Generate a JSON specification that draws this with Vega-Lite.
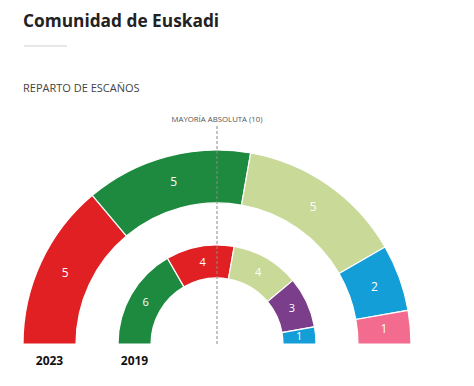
{
  "$schema": "https://vega.github.io/schema/vega-lite/v6.json",
  "width": 474,
  "height": 386,
  "autosize": {"type": "none"},
  "padding": 0,
  "background": "white",
  "config": {"view": {"stroke": null}, "font": "Open Sans"},
  "datasets": {
    "seats": [
      {"year": "2023", "party": "PSE-EE", "seats": 5, "o": 1},
      {"year": "2023", "party": "EAJ-PNV", "seats": 5, "o": 2},
      {"year": "2023", "party": "EH Bildu", "seats": 5, "o": 3},
      {"year": "2023", "party": "PP", "seats": 2, "o": 4},
      {"year": "2023", "party": "Sumar", "seats": 1, "o": 5},
      {"year": "2019", "party": "EAJ-PNV", "seats": 6, "o": 1},
      {"year": "2019", "party": "PSE-EE", "seats": 4, "o": 2},
      {"year": "2019", "party": "EH Bildu", "seats": 4, "o": 3},
      {"year": "2019", "party": "Podemos", "seats": 3, "o": 4},
      {"year": "2019", "party": "PP", "seats": 1, "o": 5}
    ]
  },
  "layer": [
    {
      "data": {"name": "seats"},
      "transform": [{"filter": "datum.year === '2023'"}],
      "mark": {"type": "arc", "radius": 194, "radius2": 141, "stroke": "white", "strokeWidth": 1.2},
      "encoding": {
        "x": {"datum": 0, "type": "quantitative", "scale": {"domain": [-217, 257], "nice": false, "zero": false}, "axis": null},
        "y": {"datum": 0, "type": "quantitative", "scale": {"domain": [-42, 344], "nice": false, "zero": false}, "axis": null},
        "theta": {"field": "seats", "type": "quantitative", "stack": true, "scale": {"domain": [0, 18], "range": [-1.5707963, 1.5707963]}},
        "order": {"field": "o", "type": "quantitative"},
        "color": {"field": "party", "type": "nominal", "legend": null, "scale": {"domain": ["PSE-EE", "EAJ-PNV", "EH Bildu", "PP", "Sumar", "Podemos"], "range": ["#e12024", "#1d8a40", "#c8d998", "#139ed8", "#f36b8e", "#7a3e8a"]}}
      }
    },
    {
      "data": {"name": "seats"},
      "transform": [{"filter": "datum.year === '2019'"}],
      "mark": {"type": "arc", "radius": 99, "radius2": 66, "stroke": "white", "strokeWidth": 1.2},
      "encoding": {
        "x": {"datum": 0, "type": "quantitative", "scale": {"domain": [-217, 257], "nice": false, "zero": false}, "axis": null},
        "y": {"datum": 0, "type": "quantitative", "scale": {"domain": [-42, 344], "nice": false, "zero": false}, "axis": null},
        "theta": {"field": "seats", "type": "quantitative", "stack": true, "scale": {"domain": [0, 18], "range": [-1.5707963, 1.5707963]}},
        "order": {"field": "o", "type": "quantitative"},
        "color": {"field": "party", "type": "nominal", "legend": null, "scale": {"domain": ["PSE-EE", "EAJ-PNV", "EH Bildu", "PP", "Sumar", "Podemos"], "range": ["#e12024", "#1d8a40", "#c8d998", "#139ed8", "#f36b8e", "#7a3e8a"]}}
      }
    },
    {
      "data": {"values": [{}]},
      "mark": {"type": "rule", "color": "#8a8a8a", "strokeDash": [3, 2], "strokeWidth": 1},
      "encoding": {
        "x": {"datum": 0, "type": "quantitative", "scale": {"domain": [-217, 257], "nice": false, "zero": false}, "axis": null},
        "y": {"datum": 0, "type": "quantitative", "scale": {"domain": [-42, 344], "nice": false, "zero": false}, "axis": null},
        "y2": {"datum": 218}
      }
    },
    {
      "data": {"name": "seats"},
      "transform": [{"filter": "datum.year === '2023'"}],
      "mark": {"type": "text", "radius": 167.5, "color": "white", "fontSize": 12},
      "encoding": {
        "x": {"datum": 0, "type": "quantitative", "scale": {"domain": [-217, 257], "nice": false, "zero": false}, "axis": null},
        "y": {"datum": 0, "type": "quantitative", "scale": {"domain": [-42, 344], "nice": false, "zero": false}, "axis": null},
        "theta": {"field": "seats", "type": "quantitative", "stack": true, "scale": {"domain": [0, 18], "range": [-1.5707963, 1.5707963]}},
        "order": {"field": "o", "type": "quantitative"},
        "text": {"field": "seats", "type": "quantitative"}
      }
    },
    {
      "data": {"name": "seats"},
      "transform": [{"filter": "datum.year === '2019'"}],
      "mark": {"type": "text", "radius": 82.5, "color": "white", "fontSize": 11},
      "encoding": {
        "x": {"datum": 0, "type": "quantitative", "scale": {"domain": [-217, 257], "nice": false, "zero": false}, "axis": null},
        "y": {"datum": 0, "type": "quantitative", "scale": {"domain": [-42, 344], "nice": false, "zero": false}, "axis": null},
        "theta": {"field": "seats", "type": "quantitative", "stack": true, "scale": {"domain": [0, 18], "range": [-1.5707963, 1.5707963]}},
        "order": {"field": "o", "type": "quantitative"},
        "text": {"field": "seats", "type": "quantitative"}
      }
    },
    {
      "data": {"values": [{}]},
      "mark": {"type": "text", "fontSize": 7.8, "color": "#555555", "align": "center", "baseline": "middle"},
      "encoding": {
        "x": {"datum": 0, "type": "quantitative", "scale": {"domain": [-217, 257], "nice": false, "zero": false}, "axis": null},
        "y": {"datum": 224, "type": "quantitative", "scale": {"domain": [-42, 344], "nice": false, "zero": false}, "axis": null},
        "text": {"value": "MAYORÍA ABSOLUTA (10)"}
      }
    },
    {
      "data": {"values": [{}]},
      "mark": {"type": "text", "fontSize": 12, "fontWeight": "bold", "color": "#111111", "align": "center", "baseline": "middle"},
      "encoding": {
        "x": {"datum": -167.5, "type": "quantitative", "scale": {"domain": [-217, 257], "nice": false, "zero": false}, "axis": null},
        "y": {"datum": -17, "type": "quantitative", "scale": {"domain": [-42, 344], "nice": false, "zero": false}, "axis": null},
        "text": {"value": "2023"}
      }
    },
    {
      "data": {"values": [{}]},
      "mark": {"type": "text", "fontSize": 12, "fontWeight": "bold", "color": "#111111", "align": "center", "baseline": "middle"},
      "encoding": {
        "x": {"datum": -82.5, "type": "quantitative", "scale": {"domain": [-217, 257], "nice": false, "zero": false}, "axis": null},
        "y": {"datum": -17, "type": "quantitative", "scale": {"domain": [-42, 344], "nice": false, "zero": false}, "axis": null},
        "text": {"value": "2019"}
      }
    },
    {
      "data": {"values": [{}]},
      "mark": {"type": "text", "fontSize": 17.3, "fontWeight": "bold", "color": "#222222", "align": "left", "baseline": "middle"},
      "encoding": {
        "x": {"datum": -194, "type": "quantitative", "scale": {"domain": [-217, 257], "nice": false, "zero": false}, "axis": null},
        "y": {"datum": 322, "type": "quantitative", "scale": {"domain": [-42, 344], "nice": false, "zero": false}, "axis": null},
        "text": {"value": "Comunidad de Euskadi"}
      }
    },
    {
      "data": {"values": [{}]},
      "mark": {"type": "rule", "color": "#d0d0d0", "strokeWidth": 1.2},
      "encoding": {
        "x": {"datum": -193, "type": "quantitative", "scale": {"domain": [-217, 257], "nice": false, "zero": false}, "axis": null},
        "x2": {"datum": -150},
        "y": {"datum": 298, "type": "quantitative", "scale": {"domain": [-42, 344], "nice": false, "zero": false}, "axis": null}
      }
    },
    {
      "data": {"values": [{}]},
      "mark": {"type": "text", "fontSize": 11, "color": "#444444", "align": "left", "baseline": "middle"},
      "encoding": {
        "x": {"datum": -194, "type": "quantitative", "scale": {"domain": [-217, 257], "nice": false, "zero": false}, "axis": null},
        "y": {"datum": 255, "type": "quantitative", "scale": {"domain": [-42, 344], "nice": false, "zero": false}, "axis": null},
        "text": {"value": "REPARTO DE ESCAÑOS"}
      }
    }
  ]
}
